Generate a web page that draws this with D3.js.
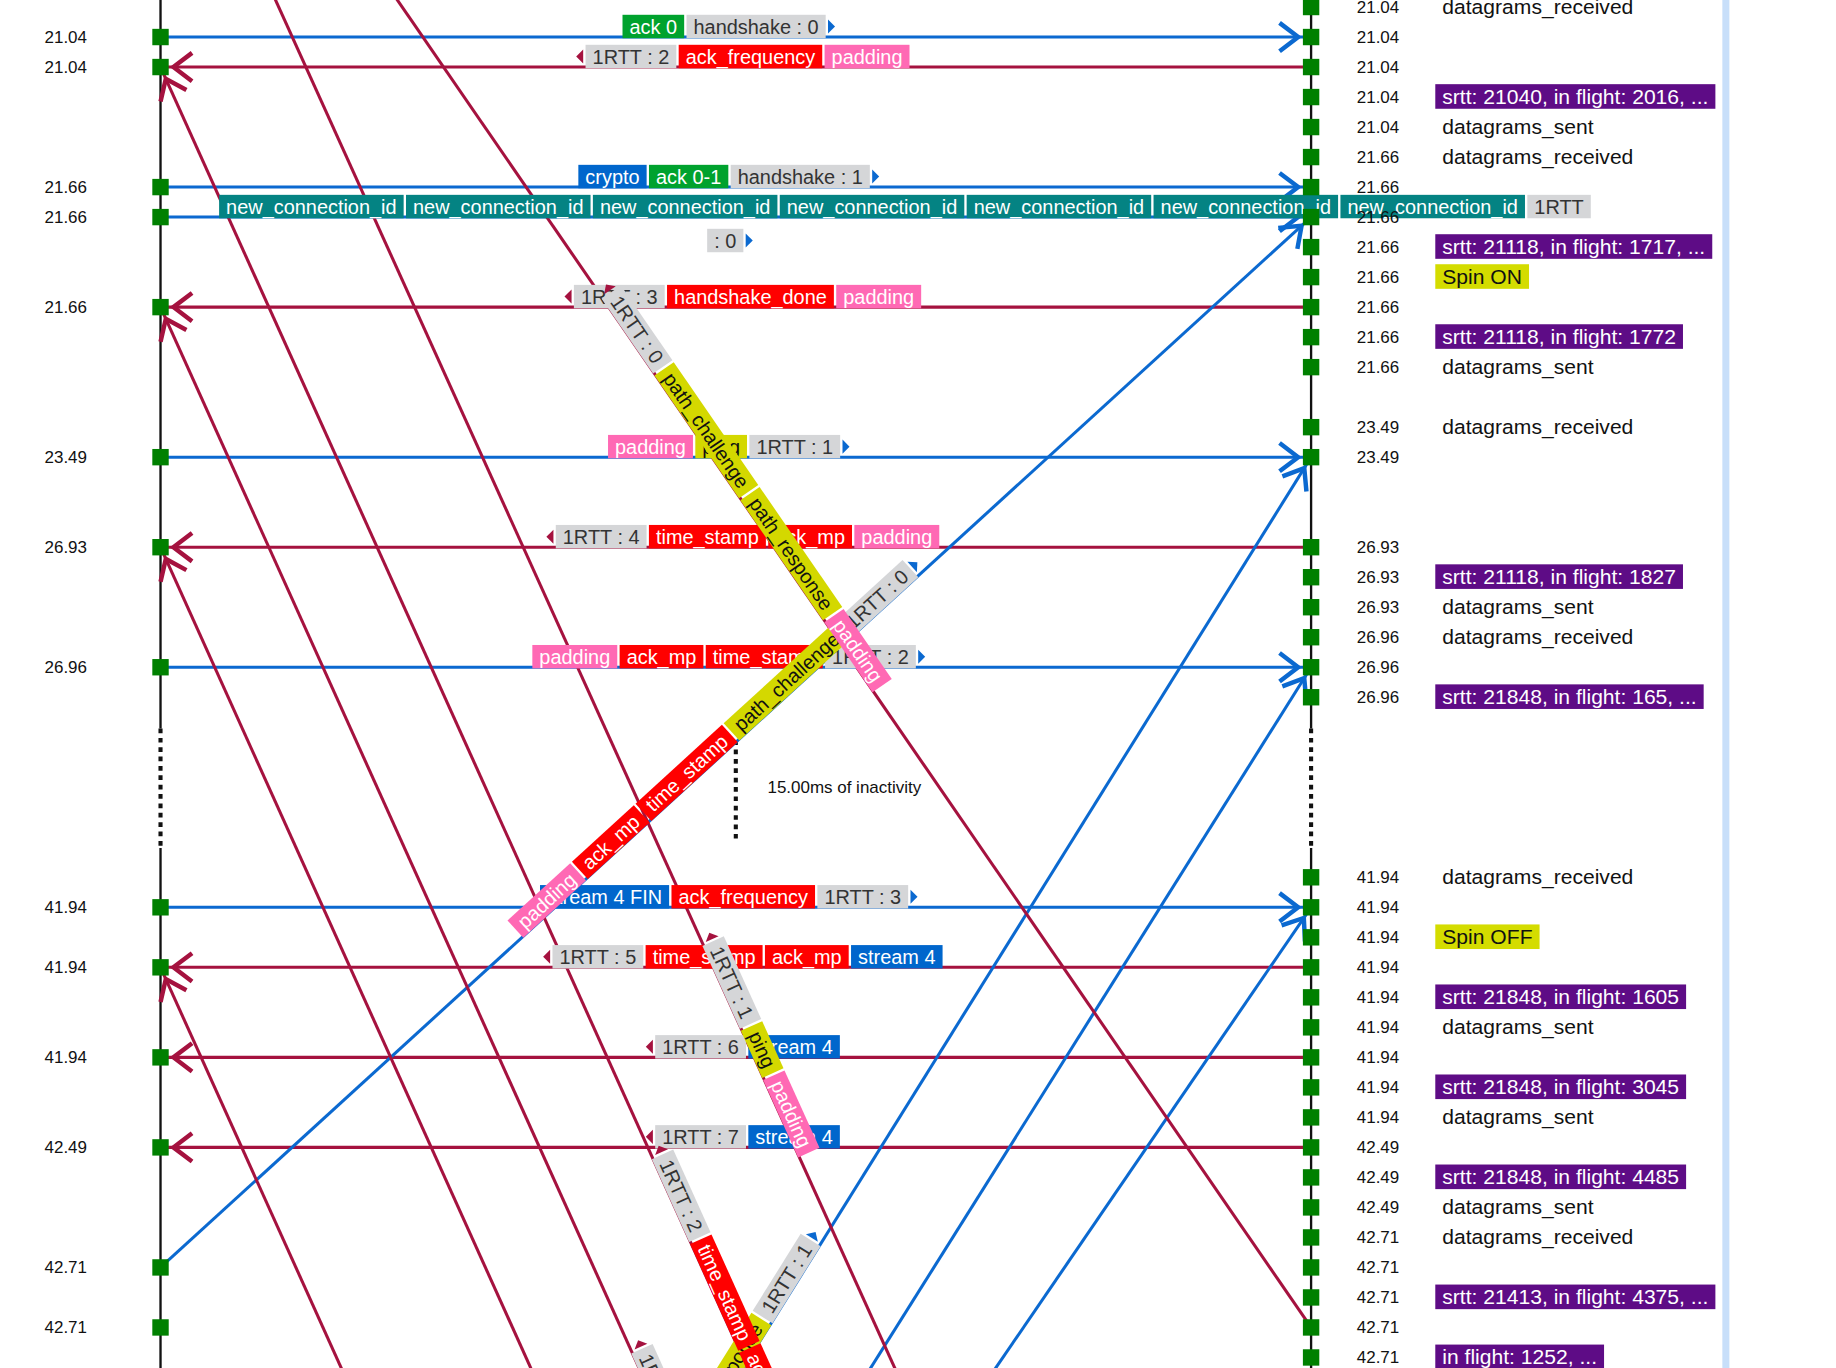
<!DOCTYPE html>
<html>
<head>
<meta charset="utf-8">
<script src="https://cdn.jsdelivr.net/npm/d3@7"></script>
<style>
  html, body { margin: 0; padding: 0; background: #fff; }
  svg { display: block; font-family: "Liberation Sans", Arial, sans-serif; }
</style>
</head>
<body>
<svg id="chart"></svg>
<script>
// rows are event slots on the vertical time axis
const clientRows  = [1, 2, 6, 7, 10, 15, 18, 22, 30, 32, 35, 38, 42, 44];
const clientTimes = ["21.04", "21.04", "21.66", "21.66", "21.66", "23.49", "26.93", "26.96",
                     "41.94", "41.94", "41.94", "42.49", "42.71", "42.71"];

const serverRows   = [0, 1, 2, 3, 4, 5, 6, 7, 8, 9, 10, 11, 12, 14, 15, 18, 19, 20, 21, 22, 23,
                      29, 30, 31, 32, 33, 34, 35, 36, 37, 38, 39, 40, 41, 42, 43, 44, 45];
const serverTimes  = ["21.04", "21.04", "21.04", "21.04", "21.04", "21.66", "21.66", "21.66", "21.66",
                      "21.66", "21.66", "21.66", "21.66", "23.49", "23.49", "26.93", "26.93", "26.93",
                      "26.96", "26.96", "26.96", "41.94", "41.94", "41.94", "41.94", "41.94", "41.94",
                      "41.94", "41.94", "41.94", "42.49", "42.49", "42.49", "42.71", "42.71", "42.71",
                      "42.71", "42.71"];
const serverLabels = ["datagrams_received", "", "", "srtt: 21040, in flight: 2016, ...", "datagrams_sent",
                      "datagrams_received", "", "", "srtt: 21118, in flight: 1717, ...", "Spin ON", "",
                      "srtt: 21118, in flight: 1772", "datagrams_sent", "datagrams_received", "", "",
                      "srtt: 21118, in flight: 1827", "datagrams_sent", "datagrams_received", "",
                      "srtt: 21848, in flight: 165, ...", "datagrams_received", "", "Spin OFF", "",
                      "srtt: 21848, in flight: 1605", "datagrams_sent", "", "srtt: 21848, in flight: 3045",
                      "datagrams_sent", "", "srtt: 21848, in flight: 4485", "datagrams_sent",
                      "datagrams_received", "", "srtt: 21413, in flight: 4375, ...", "",
                      "in flight: 1252, ..."];

// packets: sender side, send row, receive row (rows beyond the view are off-screen)
const pktFrom    = ["client", "client", "client", "client", "client", "client",
                    "server", "server", "server", "server", "server", "server",
                    "client", "client", "client", "client",
                    "server", "server", "server", "server", "server", "server"];
const pktSendRow = [1, 6, 7, 15, 22, 30,   2, 10, 18, 32, 35, 38,   42, 76.5, 83, 86,
                    44, 76, 87, 95, 103, 117];
const pktRecvRow = [1, 6, 7, 15, 22, 30,   2, 10, 18, 32, 35, 38,   7, 15, 22, 30,
                    -11.7, -8.7, 2, 10, 18, 32];
const pktHeader  = ["handshake : 0", "handshake : 1", "1RTT : 0", "1RTT : 1", "1RTT : 2", "1RTT : 3",
                    "1RTT : 2", "1RTT : 3", "1RTT : 4", "1RTT : 5", "1RTT : 6", "1RTT : 7",
                    "1RTT : 0", "1RTT : 1", null, null,
                    "1RTT : 0", "1RTT : 1", "1RTT : 2", "1RTT : 3", null, null];
const pktFrames  = [
  ["ack 0"], ["crypto", "ack 0-1"],
  ["new_connection_id", "new_connection_id", "new_connection_id", "new_connection_id",
   "new_connection_id", "new_connection_id", "new_connection_id"],
  ["padding", "ping"], ["padding", "ack_mp", "time_stamp"], ["stream 4 FIN", "ack_frequency"],
  ["ack_frequency", "padding"], ["handshake_done", "padding"], ["time_stamp", "ack_mp", "padding"],
  ["time_stamp", "ack_mp", "stream 4"], ["stream 4"], ["stream 4"],
  ["padding", "ack_mp", "time_stamp", "path_challenge"], ["padding", "path_response"], [], [],
  ["path_challenge", "path_response", "padding"], ["ping", "padding"],
  ["time_stamp", "ack_mp", "padding"], ["time_stamp", "padding"], [], []
];
// where a diagonal label sits (display y of its start, or of its end for "end")
const pktLabelY  = [null, null, null, null, null, null, null, null, null, null, null, null,
                    800, 1055, null, null, 248, 800, 982, 1148, null, null];
const pktLabelAt = ["", "", "", "", "", "", "", "", "", "", "", "",
                    "start", "end", "", "", "start", "start", "start", "start", "", ""];

const frameColors = {
  "ack 0": "#00a22e", "ack 0-1": "#00a22e", "crypto": "#0066cc", "stream 4": "#0066cc",
  "stream 4 FIN": "#0066cc", "ack_frequency": "#ff0000", "time_stamp": "#ff0000", "ack_mp": "#ff0000",
  "handshake_done": "#ff0000", "padding": "#ff69b4", "ping": "#d4d800", "path_challenge": "#d4d800",
  "path_response": "#d4d800", "new_connection_id": "#048383"
};

const W = 1567, H = 1168;
const blue = "#0b69d0", red = "#a5123f";

const svg = d3.select("#chart")
  .attr("width", 1836).attr("height", 1368)
  .attr("viewBox", [0, 0, W, H])
  .attr("preserveAspectRatio", "none");

const x = d3.scalePoint().domain(["client", "server"]).range([137, 1119]);
const y = d3.scaleLinear().domain([0, 45]).range([6, 1159]);
const midX = (x("client") + x("server")) / 2;
const gapTop = 622, gapBottom = 724;

// light blue bar at right
svg.append("rect").attr("x", 1470).attr("y", 0).attr("width", 6).attr("height", H).attr("fill", "#c8dffa");

// axes
["client", "server"].forEach(side => {
  svg.append("line").attr("x1", x(side)).attr("x2", x(side)).attr("y1", 0).attr("y2", gapTop)
    .attr("stroke", "#111").attr("stroke-width", 2);
  svg.append("line").attr("x1", x(side)).attr("x2", x(side)).attr("y1", gapTop).attr("y2", gapBottom)
    .attr("stroke", "#111").attr("stroke-width", 3.5).attr("stroke-dasharray", "4,4");
  svg.append("line").attr("x1", x(side)).attr("x2", x(side)).attr("y1", gapBottom).attr("y2", H)
    .attr("stroke", "#111").attr("stroke-width", 2);
});
svg.append("line").attr("x1", 628).attr("x2", 628).attr("y1", 632).attr("y2", 718)
  .attr("stroke", "#111").attr("stroke-width", 3.5).attr("stroke-dasharray", "4,4");
svg.append("text").attr("x", 655).attr("y", 677).attr("font-size", 14.5).attr("fill", "#111")
  .text("15.00ms of inactivity");

const packets = pktFrom.map((from, i) => {
  const to = from === "client" ? "server" : "client";
  return {
    from, to,
    x1: x(from), y1: y(pktSendRow[i]), x2: x(to), y2: y(pktRecvRow[i]),
    color: from === "client" ? blue : red,
    header: pktHeader[i], frames: pktFrames[i], labelY: pktLabelY[i], labelAt: pktLabelAt[i],
    horizontal: pktSendRow[i] === pktRecvRow[i]
  };
});

svg.append("defs").append("clipPath").attr("id", "view")
  .append("rect").attr("width", W).attr("height", H);
const lines = svg.append("g").attr("clip-path", "url(#view)");

lines.selectAll("line.pkt").data(packets).join("line")
  .attr("class", "pkt")
  .attr("x1", d => d.x1).attr("y1", d => d.y1).attr("x2", d => d.x2).attr("y2", d => d.y2)
  .attr("stroke", d => d.color).attr("stroke-width", 2.6);

// arrow heads at the receiving end
packets.forEach(d => {
  if (d.y2 < 0 || d.y2 > H) return;
  const a = Math.atan2(d.y2 - d.y1, d.x2 - d.x1);
  const L = 20, s = 0.65;
  const tipX = d.x2 - 11 * Math.cos(a), tipY = d.y2 - 11 * Math.sin(a);
  const p1 = [tipX - L * Math.cos(a - s), tipY - L * Math.sin(a - s)];
  const p2 = [tipX - L * Math.cos(a + s), tipY - L * Math.sin(a + s)];
  lines.append("path").attr("d", `M${p1}L${tipX},${tipY}L${p2}`)
    .attr("fill", "none").attr("stroke", d.color).attr("stroke-width", 3.8);
});

// frame labels
const labels = svg.append("g").attr("clip-path", "url(#view)").attr("font-size", 17);
const boxH = 20, pad = 6, gap = 2;

function layoutItems(g, items, color) {
  let cx = 0;
  items.forEach(it => {
    if (it.tri) {
      const dir = it.tri;
      const x0 = cx + (dir < 0 ? 6 : 0);
      g.append("path").attr("d", `M${x0},${-boxH / 2 - 6}L${x0 + 6 * dir},${-boxH / 2}L${x0},${-boxH / 2 + 6}Z`)
        .attr("fill", color);
      cx += 8;
      return;
    }
    const fill = it.header ? "#d5d6d8" : (frameColors[it.text] || "#888");
    const tcol = it.header ? "#333" : (fill === "#d4d800" ? "#111" : "#fff");
    const r = g.append("rect").attr("y", -boxH).attr("height", boxH).attr("fill", fill);
    const t = g.append("text").attr("y", -4).attr("fill", tcol).text(it.text);
    const w = t.node().getComputedTextLength() + 2 * pad;
    r.attr("x", cx).attr("width", w);
    t.attr("x", cx + pad);
    cx += w + gap;
  });
  return cx;
}

function itemsFor(d, header, frames) {
  const items = frames.map(f => ({ text: f }));
  if (d.from === "client") {
    if (header) { items.push({ text: header, header: true }); items.push({ tri: 1 }); }
    return items;
  }
  return header ? [{ tri: -1 }, { text: header, header: true }].concat(items) : items;
}

packets.forEach(d => {
  if (!d.frames.length) return;
  if (d.horizontal) {
    if (d.frames.length > 6) {
      // long label wraps onto a second line
      const g1 = labels.append("g");
      const items = d.frames.map(f => ({ text: f })).concat([{ text: "1RTT", header: true }]);
      layoutItems(g1, items, d.color);
      g1.attr("transform", `translate(${x("client") + 50},${d.y1 + 1})`);
      const g2 = labels.append("g");
      const w2 = layoutItems(g2, [{ text: ": 0", header: true }, { tri: 1 }], d.color);
      g2.attr("transform", `translate(${midX - 4 - w2 / 2},${d.y1 + 30})`);
      return;
    }
    const g = labels.append("g");
    const w = layoutItems(g, itemsFor(d, d.header, d.frames), d.color);
    const c = d.from === "client" ? midX - 5 : midX + 7;
    g.attr("transform", `translate(${c - w / 2},${d.y1 + 1})`);
    return;
  }
  // diagonal: local +x runs from top-left (red) or bottom-left (blue)
  let ax, ay, bx, by;
  if (d.from === "client") { ax = d.x1; ay = d.y1; bx = d.x2; by = d.y2; }
  else { ax = d.x2; ay = d.y2; bx = d.x1; by = d.y1; }
  const ang = Math.atan2(by - ay, bx - ax);
  const px = ax + (d.labelY - ay) * (bx - ax) / (by - ay);
  const g = labels.append("g");
  const w = layoutItems(g, itemsFor(d, d.header, d.frames), d.color);
  const shift = d.labelAt === "end" ? -w : 0;
  g.attr("transform", `translate(${px},${d.labelY}) rotate(${ang * 180 / Math.PI}) translate(${shift},1)`);
});

// event squares and times
const sq = 14;
svg.append("g").selectAll("rect").data(clientRows).join("rect")
  .attr("x", x("client") - sq / 2).attr("y", r => y(r) - sq / 2)
  .attr("width", sq).attr("height", sq).attr("fill", "#008000");
svg.append("g").selectAll("rect").data(serverRows).join("rect")
  .attr("x", x("server") - sq / 2).attr("y", r => y(r) - sq / 2)
  .attr("width", sq).attr("height", sq).attr("fill", "#008000");

svg.append("g").attr("font-size", 14.5).attr("fill", "#111").selectAll("text").data(clientRows).join("text")
  .attr("x", 38).attr("y", r => y(r) + 5).text((r, i) => clientTimes[i]);
svg.append("g").attr("font-size", 14.5).attr("fill", "#111").selectAll("text").data(serverRows).join("text")
  .attr("x", 1158).attr("y", r => y(r) + 5).text((r, i) => serverTimes[i]);

// server side event texts
const ev = svg.append("g").attr("font-size", 18);
serverRows.forEach((r, i) => {
  const label = serverLabels[i];
  if (!label) return;
  const isMetric = label.startsWith("srtt") || label.startsWith("in flight");
  const isSpin = label.startsWith("Spin");
  const rect = ev.append("rect").attr("x", 1225).attr("y", y(r) - 11).attr("height", 21)
    .attr("fill", isMetric ? "#5e0c86" : isSpin ? "#d4dc00" : "none");
  const t = ev.append("text").attr("x", 1231).attr("y", y(r) + 6)
    .attr("fill", isMetric ? "#fff" : "#111").text(label);
  rect.attr("width", (isMetric || isSpin) ? t.node().getComputedTextLength() + 12 : 0);
});
</script>
</body>
</html>
